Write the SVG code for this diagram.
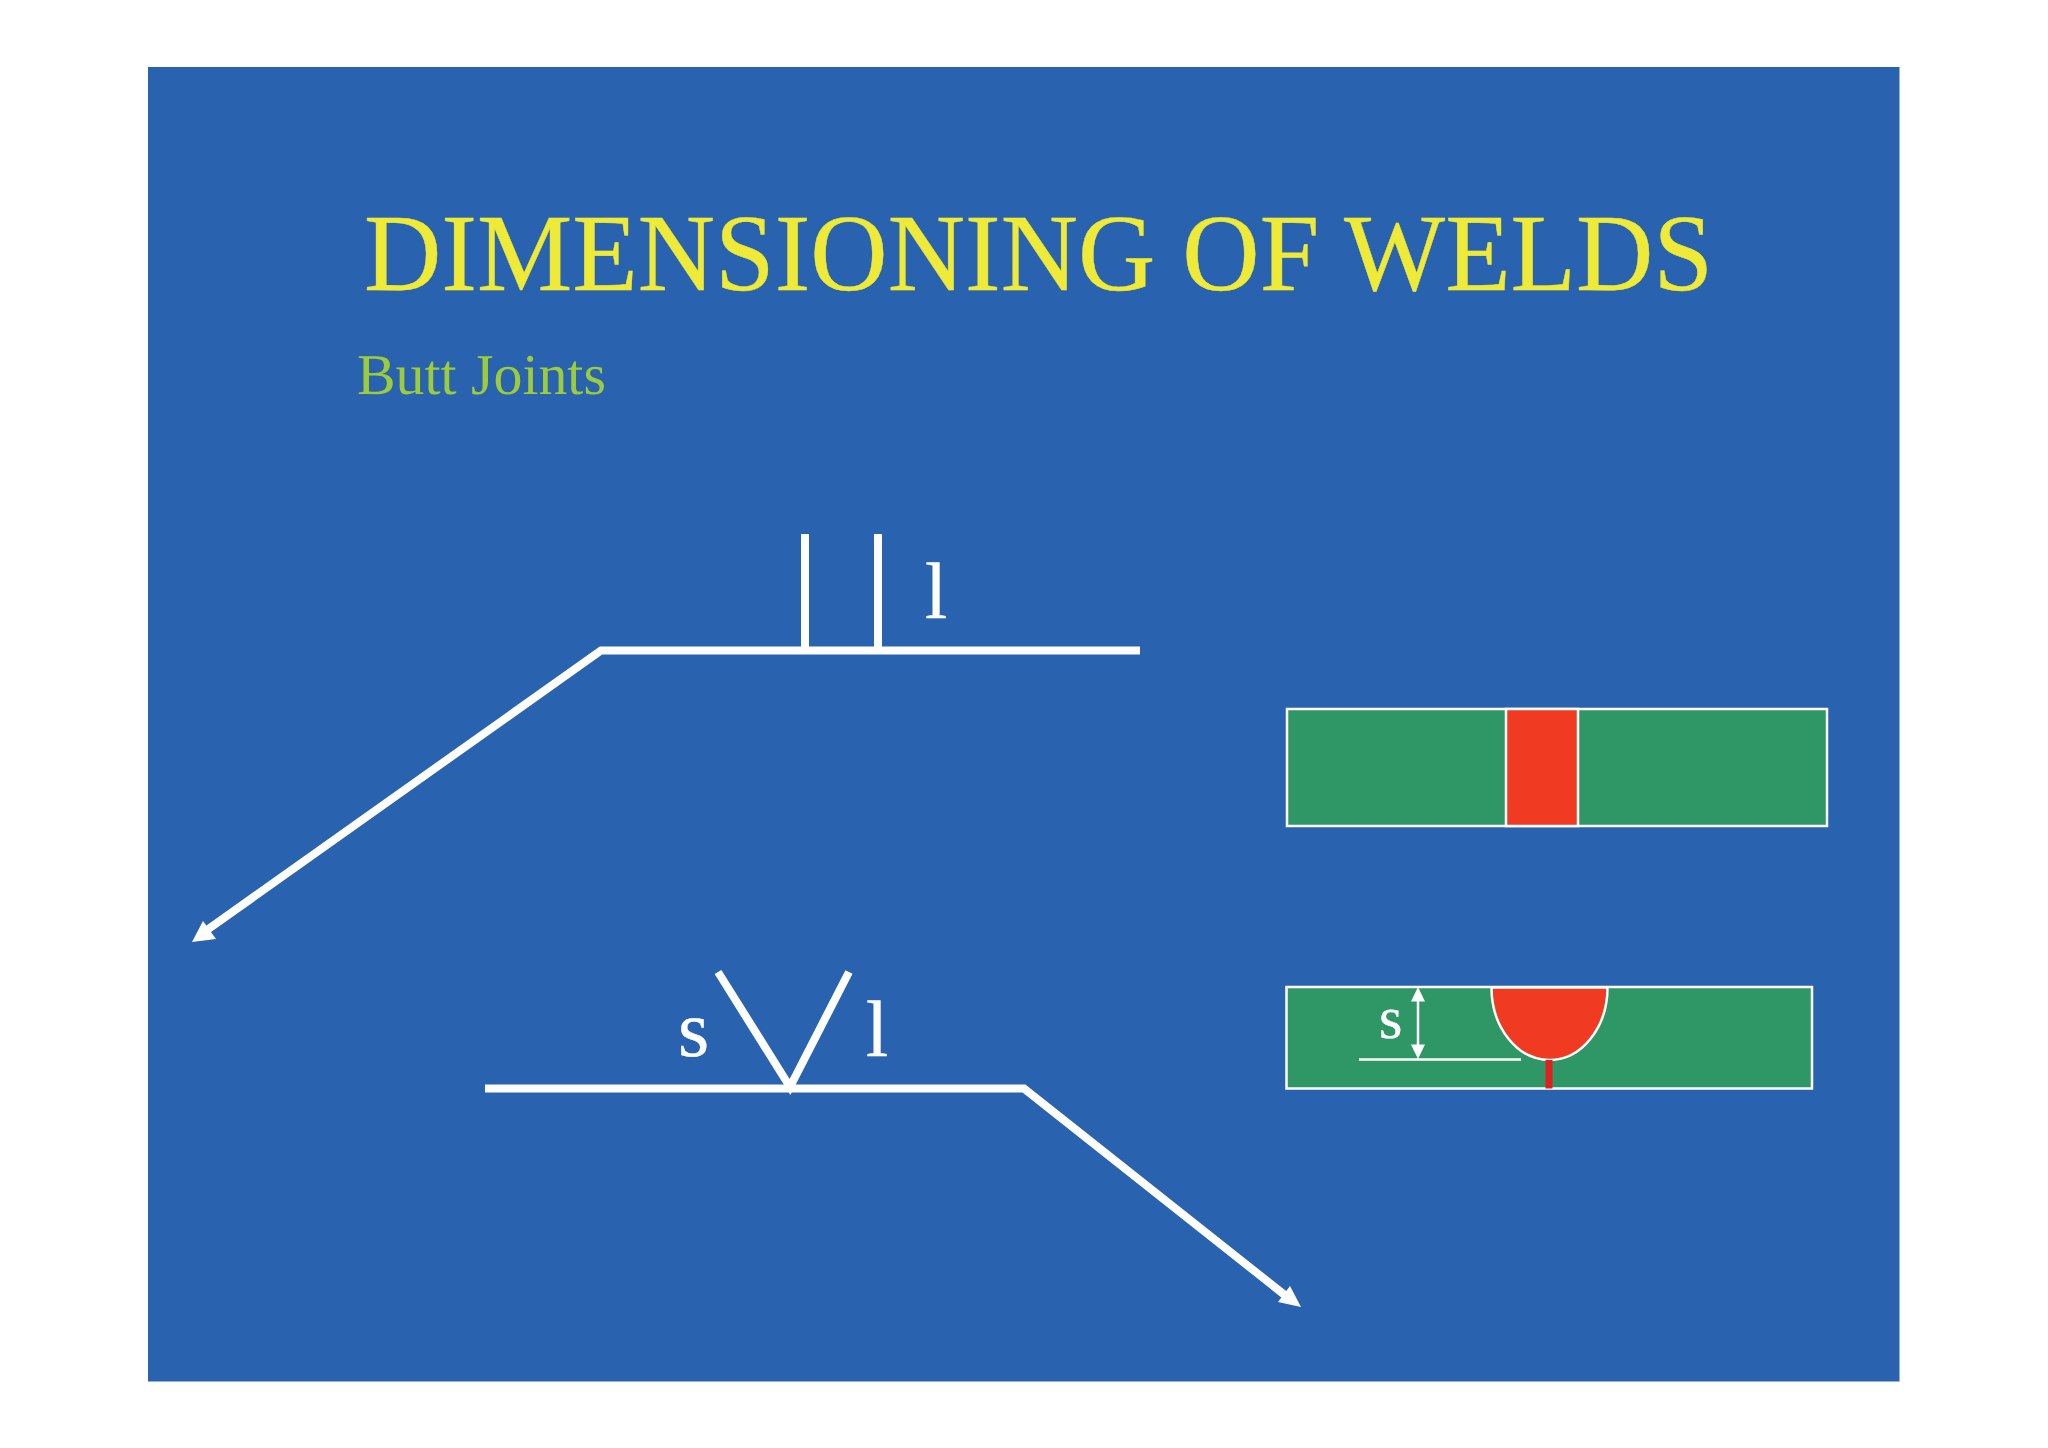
<svg xmlns="http://www.w3.org/2000/svg" width="2048" height="1448" viewBox="0 0 2048 1448">
<style>
text{font-family:"Liberation Serif","Times New Roman",serif;text-rendering:geometricPrecision}
.w{stroke:#fff;stroke-width:8;fill:none}
.p{fill:#2f9665;stroke:#fff;stroke-width:2.500}
.r{fill:#f03a22}
.t{fill:#fff;font-size:80px;stroke:#fff;stroke-width:.4}
</style>
<rect width="2048" height="1448" fill="#fff"/>
<rect x="148" y="67" width="1751.500" height="1314.500" fill="#2962ae"/>
<text id="title" x="364" y="289.500" font-size="110" fill="#eeea37" stroke="#eeea37" stroke-width=".4" textLength="1349" lengthAdjust="spacingAndGlyphs">DIMENSIONING OF WELDS</text>
<text id="subtitle" x="357" y="394" font-size="57.800" fill="#9ccb3b">Butt Joints</text>
<g id="connectors">
<path class="w" d="M1140 650.500H601L207 930"/>
<path fill="#fff" d="M192 942L203 921L216 939Z"/>
<path class="w" d="M485 1088.500H1024L1286 1296"/>
<path fill="#fff" d="M1301 1307L1290 1286L1278 1302Z"/>
</g>
<g id="symbol-square">
<path class="w" d="M805 534V650M878 534V650"/>
<text class="t" x="925" y="618">l</text>
</g>
<g id="symbol-v">
<path class="w" d="M718 972L790 1087L849 972"/>
<text class="t" x="678" y="1056">s</text>
<text class="t" x="866" y="1056">l</text>
</g>
<g id="plate-square">
<rect class="p" x="1287" y="709" width="540" height="117"/>
<rect class="r" x="1506" y="709" width="72" height="117" stroke="#fff" stroke-width="2.500"/>
</g>
<g id="plate-v">
<rect class="p" x="1286.500" y="987" width="525.500" height="101.500"/>
<path class="r" d="M1491.500 987.500H1607.500A58 72.500 0 0 1 1491.500 987.500Z" stroke="#fff" stroke-width="2.500"/>
<rect x="1545.500" y="1060" width="7" height="28.500" fill="#e02020"/>
<path stroke="#fff" stroke-width="2.500" fill="none" d="M1359 1059.500H1521M1418 995V1052"/>
<path fill="#fff" d="M1418 987L1425 1001.500H1411ZM1418 1059L1425 1044.500H1411Z"/>
<text class="t" style="font-size:60px" x="1379" y="1037.500">s</text>
</g>
</svg>
